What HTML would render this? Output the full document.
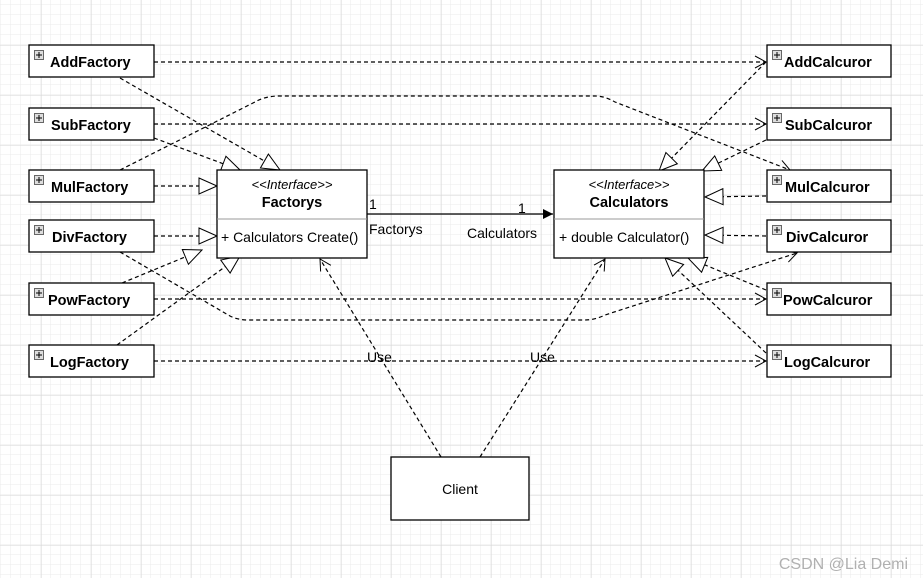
<!DOCTYPE html>
<html><head><meta charset="utf-8"><style>
html,body{margin:0;padding:0;background:#fff;}
svg{display:block;font-family:"Liberation Sans",sans-serif;}
</style></head><body>
<svg width="923" height="578" viewBox="0 0 923 578" xmlns="http://www.w3.org/2000/svg">
<defs>
<pattern id="minor" width="10" height="10" patternUnits="userSpaceOnUse" x="1" y="5">
<path d="M10 0V10M0 10H10" fill="none" stroke="#ebebeb" stroke-width="1"/></pattern>
<pattern id="major" width="50" height="50" patternUnits="userSpaceOnUse" x="41" y="45">
<path d="M0 0V50M0 0H50" fill="none" stroke="#d6d6d6" stroke-width="1"/></pattern>
<marker id="tri" viewBox="0 0 20 20" refX="19" refY="10" markerWidth="20" markerHeight="20" markerUnits="userSpaceOnUse" orient="auto">
<path d="M1 2 L19 10 L1 18 Z" fill="#fff" stroke="#000" stroke-width="1"/></marker>
<marker id="open" viewBox="0 0 14 14" refX="13" refY="7" markerWidth="14" markerHeight="14" markerUnits="userSpaceOnUse" orient="auto">
<path d="M2 1 L13 7 L2 13" fill="none" stroke="#000" stroke-width="1"/></marker>
<marker id="fill" viewBox="0 0 12 12" refX="11" refY="6" markerWidth="12" markerHeight="12" markerUnits="userSpaceOnUse" orient="auto">
<path d="M1 1 L11 6 L1 11 Z" fill="#000"/></marker>
</defs>
<rect width="923" height="578" fill="url(#minor)"/>
<rect width="923" height="578" fill="url(#major)"/>

<g fill="none" stroke="#000" stroke-width="1.2" stroke-dasharray="4,3">
<path d="M154 62H766" marker-end="url(#open)"/>
<path d="M154 124H766" marker-end="url(#open)"/>
<path d="M154 299H766" marker-end="url(#open)"/>
<path d="M154 361H766" marker-end="url(#open)"/>
<path d="M120 170 L255 102 Q265 96 280 96 L595 96 Q605 96 615 102 L790 170" marker-end="url(#open)"/>
<path d="M120 252 L230 316 Q238 320 248 320 L585 320 Q595 320 605 315 L797 253" marker-end="url(#open)"/>
<path d="M120 78 L280 170" marker-end="url(#tri)"/>
<path d="M154 138 L240 170" marker-end="url(#tri)"/>
<path d="M154 186 L217 186" marker-end="url(#tri)"/>
<path d="M154 236 L217 236" marker-end="url(#tri)"/>
<path d="M122 283 L202 250" marker-end="url(#tri)"/>
<path d="M117 345 L240 256" marker-end="url(#tri)"/>
<path d="M766 62 L659 171" marker-end="url(#tri)"/>
<path d="M766 140 L702 171" marker-end="url(#tri)"/>
<path d="M766 196 L705 197" marker-end="url(#tri)"/>
<path d="M766 236 L705 235" marker-end="url(#tri)"/>
<path d="M766 290 L688 258" marker-end="url(#tri)"/>
<path d="M766 353 L665 258" marker-end="url(#tri)"/>
<path d="M441 457 L320 259" marker-end="url(#open)"/>
<path d="M480 457 L605 259" marker-end="url(#open)"/>
</g>
<path d="M367 214 H553" stroke="#000" stroke-width="1.3" marker-end="url(#fill)"/>

<g font-size="14" fill="#000">
<text x="369" y="209">1</text>
<text x="518" y="213">1</text>
<text x="369" y="234">Factorys</text>
<text x="467" y="238">Calculators</text>
<text x="367" y="362">Use</text>
<text x="530" y="362">Use</text>
</g>

<g stroke="#000" stroke-width="1.3" fill="#fff">
<rect x="29" y="45" width="125" height="32"/>
<rect x="29" y="108" width="125" height="32"/>
<rect x="29" y="170" width="125" height="32"/>
<rect x="29" y="220" width="125" height="32"/>
<rect x="29" y="283" width="125" height="32"/>
<rect x="29" y="345" width="125" height="32"/>
<rect x="767" y="45" width="124" height="32"/>
<rect x="767" y="108" width="124" height="32"/>
<rect x="767" y="170" width="124" height="32"/>
<rect x="767" y="220" width="124" height="32"/>
<rect x="767" y="283" width="124" height="32"/>
<rect x="767" y="345" width="124" height="32"/>
<rect x="217" y="170" width="150" height="88"/>
<rect x="554" y="170" width="150" height="88"/>
<rect x="391" y="457" width="138" height="63"/>
</g>
<path d="M217 219H367M554 219H704" stroke="#999" stroke-width="1"/>

<g fill="#ddd" stroke="#666" stroke-width="1">
<rect x="34.5" y="50.5" width="9" height="9"/><rect x="34.5" y="113.5" width="9" height="9"/>
<rect x="34.5" y="175.5" width="9" height="9"/><rect x="34.5" y="225.5" width="9" height="9"/>
<rect x="34.5" y="288.5" width="9" height="9"/><rect x="34.5" y="350.5" width="9" height="9"/>
<rect x="772.5" y="50.5" width="9" height="9"/><rect x="772.5" y="113.5" width="9" height="9"/>
<rect x="772.5" y="175.5" width="9" height="9"/><rect x="772.5" y="225.5" width="9" height="9"/>
<rect x="772.5" y="288.5" width="9" height="9"/><rect x="772.5" y="350.5" width="9" height="9"/>
</g>
<g stroke="#000" stroke-width="1" fill="none">
<path d="M36 55h6M39 52v6M36 118h6M39 115v6M36 180h6M39 177v6M36 230h6M39 227v6M36 293h6M39 290v6M36 355h6M39 352v6"/>
<path d="M774 55h6M777 52v6M774 118h6M777 115v6M774 180h6M777 177v6M774 230h6M777 227v6M774 293h6M777 290v6M774 355h6M777 352v6"/>
</g>

<g font-size="14.5" font-weight="bold" fill="#000">
<text x="50" y="67">AddFactory</text>
<text x="51" y="130">SubFactory</text>
<text x="51" y="192">MulFactory</text>
<text x="52" y="242">DivFactory</text>
<text x="48" y="305">PowFactory</text>
<text x="50" y="367">LogFactory</text>
<text x="784" y="67">AddCalcuror</text>
<text x="785" y="130">SubCalcuror</text>
<text x="785" y="192">MulCalcuror</text>
<text x="786" y="242">DivCalcuror</text>
<text x="783" y="305">PowCalcuror</text>
<text x="784" y="367">LogCalcuror</text>
<text x="292" y="207" text-anchor="middle">Factorys</text>
<text x="629" y="207" text-anchor="middle">Calculators</text>
</g>
<g font-size="13" fill="#000">
<text x="292" y="189" text-anchor="middle" font-style="italic">&lt;&lt;Interface&gt;&gt;</text>
<text x="629" y="189" text-anchor="middle" font-style="italic">&lt;&lt;Interface&gt;&gt;</text>
</g>
<g font-size="14" fill="#000">
<text x="221" y="242">+ Calculators Create()</text>
<text x="559" y="242">+ double Calculator()</text>
<text x="460" y="494" text-anchor="middle">Client</text>
</g>
<text x="908" y="569" font-size="16" fill="#b0b0b0" text-anchor="end">CSDN @Lia Demi</text>
</svg>
</body></html>
